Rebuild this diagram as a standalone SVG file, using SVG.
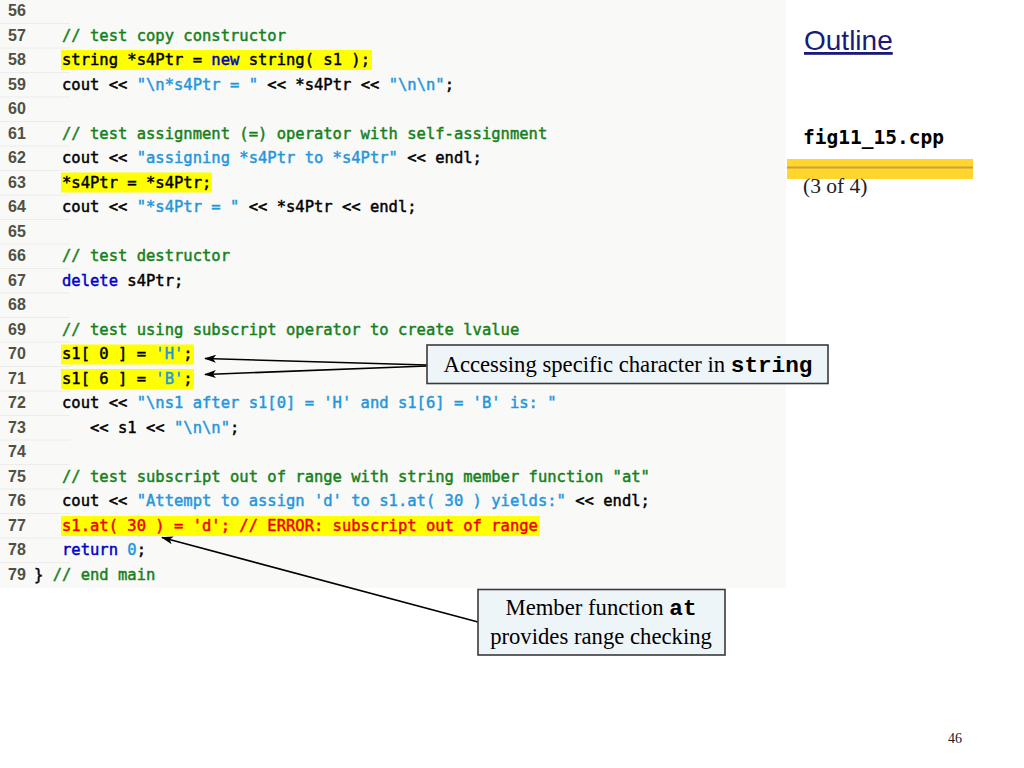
<svg xmlns="http://www.w3.org/2000/svg" width="1024" height="768" viewBox="0 0 1024 768">
<defs>
<style>
.num{font-family:"Liberation Sans",Arial,sans-serif;font-size:16px;font-weight:bold;fill:#505044}
.code{font-family:"DejaVu Sans Mono",monospace;font-size:15.5px;fill:#000;stroke:#000;stroke-width:0.45}
.c{fill:#16801a;stroke:#16801a}
.s{fill:#2496dc;stroke:#2496dc}
.k{fill:#0000c8;stroke:#0000c8}
.r{fill:#f00000;stroke:#f00000}
.hl{fill:#ffff00}
.row{stroke:#ececea;stroke-width:1}
.box{fill:#eef5f8;stroke:#3a3a3a;stroke-width:1.6}
.ct{font-family:"Liberation Serif","Times New Roman",serif;font-size:22.7px;fill:#000}
.cm{font-family:"Liberation Mono","Courier New",monospace;font-weight:bold}
.arrow{stroke:#000;stroke-width:1.6;fill:none;marker-end:url(#ah)}
</style>
<marker id="ah" viewBox="0 0 12 8" refX="11" refY="4" markerWidth="12" markerHeight="8" markerUnits="userSpaceOnUse" orient="auto">
<path d="M0,0 L12,4 L0,8 L3,4 Z" fill="#000"/>
</marker>
</defs>
<rect width="1024" height="768" fill="#ffffff"/>
<g id="code">
<rect x="0" y="0" width="786" height="588" fill="#f9f9f7"/>
<g>
<line class="row" x1="0" y1="23.5" x2="70" y2="23.5"/>
<line class="row" x1="0" y1="48" x2="70" y2="48"/>
<line class="row" x1="0" y1="72.5" x2="70" y2="72.5"/>
<line class="row" x1="0" y1="97" x2="70" y2="97"/>
<line class="row" x1="0" y1="121.5" x2="70" y2="121.5"/>
<line class="row" x1="0" y1="146" x2="70" y2="146"/>
<line class="row" x1="0" y1="170.5" x2="70" y2="170.5"/>
<line class="row" x1="0" y1="195" x2="70" y2="195"/>
<line class="row" x1="0" y1="219.5" x2="70" y2="219.5"/>
<line class="row" x1="0" y1="244" x2="70" y2="244"/>
<line class="row" x1="0" y1="268.5" x2="70" y2="268.5"/>
<line class="row" x1="0" y1="293" x2="70" y2="293"/>
<line class="row" x1="0" y1="317.5" x2="70" y2="317.5"/>
<line class="row" x1="0" y1="342" x2="70" y2="342"/>
<line class="row" x1="0" y1="366.5" x2="70" y2="366.5"/>
<line class="row" x1="0" y1="391" x2="70" y2="391"/>
<line class="row" x1="0" y1="415.5" x2="70" y2="415.5"/>
<line class="row" x1="0" y1="440" x2="70" y2="440"/>
<line class="row" x1="0" y1="464.5" x2="70" y2="464.5"/>
<line class="row" x1="0" y1="489" x2="70" y2="489"/>
<line class="row" x1="0" y1="513.5" x2="70" y2="513.5"/>
<line class="row" x1="0" y1="538" x2="70" y2="538"/>
<line class="row" x1="0" y1="562.5" x2="70" y2="562.5"/>
</g>
<rect class="hl" x="61" y="50" width="311" height="20"/>
<rect class="hl" x="61" y="172.5" width="151" height="20"/>
<rect class="hl" x="61" y="344.5" width="133" height="20"/>
<rect class="hl" x="61" y="369" width="133" height="20"/>
<rect class="hl" x="61" y="516" width="479" height="20"/>
<g class="num">
<text x="8" y="16">56</text>
<text x="8" y="40.5">57</text>
<text x="8" y="65">58</text>
<text x="8" y="89.6">59</text>
<text x="8" y="114.1">60</text>
<text x="8" y="138.6">61</text>
<text x="8" y="163.1">62</text>
<text x="8" y="187.6">63</text>
<text x="8" y="212.2">64</text>
<text x="8" y="236.7">65</text>
<text x="8" y="261.2">66</text>
<text x="8" y="285.7">67</text>
<text x="8" y="310.2">68</text>
<text x="8" y="334.8">69</text>
<text x="8" y="359.3">70</text>
<text x="8" y="383.8">71</text>
<text x="8" y="408.3">72</text>
<text x="8" y="432.8">73</text>
<text x="8" y="457.4">74</text>
<text x="8" y="481.9">75</text>
<text x="8" y="506.4">76</text>
<text x="8" y="530.9">77</text>
<text x="8" y="555.4">78</text>
<text x="8" y="580">79</text>
</g>
<g class="code" xml:space="preserve">
<text x="62" y="40.5" class="c">// test copy constructor</text>
<text x="62" y="65">string *s4Ptr = <tspan class="k">new</tspan> string( s1 );</text>
<text x="62" y="89.6">cout &lt;&lt; <tspan class="s">"\n*s4Ptr = "</tspan> &lt;&lt; *s4Ptr &lt;&lt; <tspan class="s">"\n\n"</tspan>;</text>
<text x="62" y="138.6" class="c">// test assignment (=) operator with self-assignment</text>
<text x="62" y="163.1">cout &lt;&lt; <tspan class="s">"assigning *s4Ptr to *s4Ptr"</tspan> &lt;&lt; endl;</text>
<text x="62" y="187.6">*s4Ptr = *s4Ptr;</text>
<text x="62" y="212.2">cout &lt;&lt; <tspan class="s">"*s4Ptr = "</tspan> &lt;&lt; *s4Ptr &lt;&lt; endl;</text>
<text x="62" y="261.2" class="c">// test destructor</text>
<text x="62" y="285.7"><tspan class="k">delete</tspan> s4Ptr;</text>
<text x="62" y="334.8" class="c">// test using subscript operator to create lvalue</text>
<text x="62" y="359.3">s1[ 0 ] = <tspan class="s">'H'</tspan>;</text>
<text x="62" y="383.8">s1[ 6 ] = <tspan class="s">'B'</tspan>;</text>
<text x="62" y="408.3">cout &lt;&lt; <tspan class="s">"\ns1 after s1[0] = 'H' and s1[6] = 'B' is: "</tspan></text>
<text x="90" y="432.8">&lt;&lt; s1 &lt;&lt; <tspan class="s">"\n\n"</tspan>;</text>
<text x="62" y="481.9" class="c">// test subscript out of range with string member function "at"</text>
<text x="62" y="506.4">cout &lt;&lt; <tspan class="s">"Attempt to assign 'd' to s1.at( 30 ) yields:"</tspan> &lt;&lt; endl;</text>
<text x="62" y="530.9" class="r">s1.at( 30 ) = 'd'; // ERROR: subscript out of range</text>
<text x="62" y="555.4"><tspan class="k">return</tspan> <tspan class="s">0</tspan>;</text>
<text x="34" y="580">} <tspan class="c">// end main</tspan></text>
</g>
</g>
<g id="outline">
<text x="804" y="50" font-family="Liberation Sans,Arial,sans-serif" font-size="28" fill="#1a1a7a" text-decoration="underline">Outline</text>
<text x="803" y="144" font-family="DejaVu Sans Mono,monospace" font-size="19.5" font-weight="bold" fill="#000">fig11_15.cpp</text>
<rect x="787" y="159" width="186" height="20" fill="#ffd52e"/>
<rect x="787" y="166.5" width="186" height="2" fill="#c9a03a"/>
<text x="803" y="193" font-family="Liberation Serif,Times New Roman,serif" font-size="21.5" fill="#222">(3 of 4)</text>
</g>
<g id="connectors">
<line class="arrow" x1="427" y1="365" x2="205" y2="358.5"/>
<line class="arrow" x1="427" y1="366" x2="205" y2="374.5"/>
<line class="arrow" x1="478" y1="622" x2="162" y2="537.5"/>
</g>
<g id="callout-string">
<rect class="box" x="427" y="345" width="401" height="38.5"/>
<text class="ct" x="628" y="371.5" text-anchor="middle">Accessing specific character in <tspan class="cm">string</tspan></text>
</g>
<g id="callout-at">
<rect class="box" x="478" y="589.5" width="247" height="65.5"/>
<text class="ct" x="601" y="614.5" text-anchor="middle">Member function <tspan class="cm">at</tspan></text>
<text class="ct" x="601" y="643.5" text-anchor="middle">provides range checking</text>
</g>
<text x="948" y="743" font-family="Liberation Serif,Times New Roman,serif" font-size="14" fill="#222">46</text>
</svg>
